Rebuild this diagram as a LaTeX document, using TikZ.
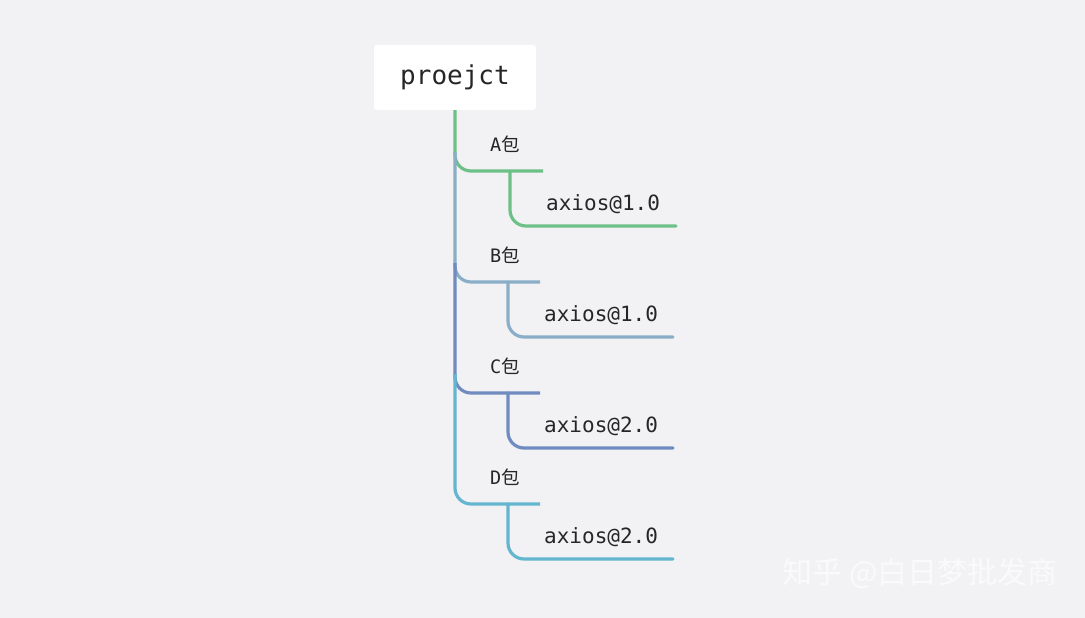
\documentclass[tikz,border=0pt]{standalone}
\usepackage{fontspec}
\setmonofont{DejaVu Sans Mono}
\newfontfamily\cjk{Noto Sans CJK SC}
\definecolor{bg}{HTML}{F2F2F4}
\definecolor{cA}{HTML}{6DC087}
\definecolor{cB}{HTML}{8AAEC8}
\definecolor{cC}{HTML}{6F8BC0}
\definecolor{cD}{HTML}{63B5D0}
\definecolor{wm}{HTML}{FAFAFC}
\tikzset{br/.style={line width=3.2pt,rounded corners=16pt,line cap=round},
 lab/.style={font=\ttfamily\fontsize{21}{21}\selectfont,text=black!85,anchor=west,inner sep=0pt},
 pk/.style={font=\ttfamily\fontsize{18.5}{18.5}\selectfont,text=black!85,anchor=west,inner sep=0pt}}
\begin{document}
\begin{tikzpicture}[x=1pt,y=-1pt]
\fill[bg] (0,0) rectangle (1085,618);
\useasboundingbox (0,0) rectangle (1085,618);
\node[fill=white,rounded corners=3pt,minimum width=162pt,minimum height=65pt,font=\ttfamily\fontsize{26}{26}\selectfont,text=black!85] (root) at (455,77.5) {proejct};
\foreach \c/\y/\p/\n/\v/\xa/\xb/\xs in {cA/171/110/A/1.0/543/676/510, cB/282/152/B/1.0/540/673/508, cC/393/263/C/2.0/540/673/508, cD/504/374/D/2.0/540/673/508}{
  \coordinate (s\n) at (455,\p);
  \coordinate (c\n) at (455,\y);
  \coordinate (e\n) at (\xa,\y);
  \coordinate (v\n) at (\xs,\y);
  \coordinate (w\n) at (\xs,\y+55);
  \coordinate (f\n) at (\xb,\y+55);
  \draw[\c,br,line cap=butt] (s\n) -- (c\n) -- (e\n);
  \draw[\c,br] (v\n) -- (w\n) -- (f\n);
  \node[pk] (p\n) at (490,\y-27) {\n{\cjk 包}};
  \node[lab] (a\n) at (\xs+36,\y+33) {axios@\v};
}
\node[font=\cjk\fontsize{30}{30}\selectfont,text=wm,anchor=east,inner sep=0pt] (wmk) at (1058,573) {知乎 @白日梦批发商};
\end{tikzpicture}
\end{document}
